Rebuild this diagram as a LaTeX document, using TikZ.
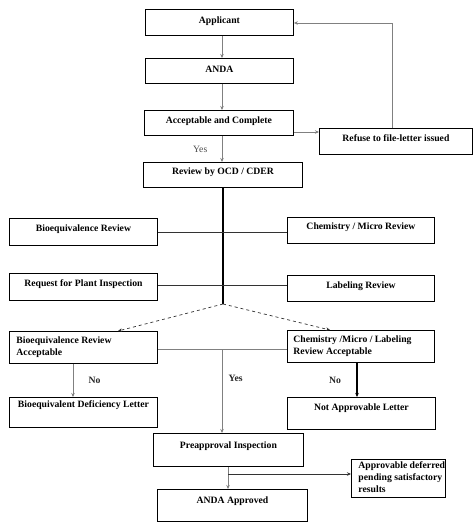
\documentclass[tikz,border=0pt]{standalone}
\usepackage{fontspec}
\setmainfont{Liberation Serif}
\usetikzlibrary{arrows.meta}
\newcommand{\tlines}[1]{\begin{tabular}[t]{@{}l@{}}#1\end{tabular}}
\begin{document}
\begin{tikzpicture}[x=1pt,y=-1pt,
  font=\bfseries\fontsize{9.7}{12}\selectfont,
  bx/.style={draw=black, line width=0.9pt, inner xsep=0pt, inner ysep=0pt, anchor=north west},
  lbx/.style={bx, inner xsep=7pt},
  gl/.style={draw=black!50, line width=0.7pt},
  dl/.style={draw=black!80, line width=0.7pt},
  tl/.style={draw=black, line width=1.2pt},
  arr/.style={-{Stealth[length=4pt,width=3.5pt]}},
  lbl/.style={font=\bfseries\fontsize{9.7}{12}\selectfont, text=black!85}
]
\useasboundingbox (0,0) rectangle (474,524);
% boxes
\node[bx, minimum width=148pt, text height=14pt, text depth=12pt] (app) at (145,9) {Applicant};
\node[bx, minimum width=148pt, text height=14.5pt, text depth=10.5pt] (anda) at (145,58) {ANDA};
\node[bx, minimum width=149pt, text height=13.5pt, text depth=11.5pt] (acc) at (144,110) {Acceptable and Complete};
\node[bx, minimum width=153pt, text height=13.5pt, text depth=12.5pt] (ref) at (319,128) {Refuse to file-letter issued};
\node[bx, minimum width=159pt, text height=12.5pt, text depth=12.5pt] (rev) at (143,162) {Review by OCD / CDER};
\node[bx, minimum width=148pt, text height=13.5pt, text depth=13.5pt] (bio) at (9,218) {Bioequivalence Review};
\node[bx, minimum width=147pt, text height=12.5pt, text depth=13.5pt] (chem) at (287,217) {Chemistry / Micro Review};
\node[bx, minimum width=148pt, text height=13.5pt, text depth=13.5pt] (req) at (9,273) {Request for Plant Inspection};
\node[bx, minimum width=147pt, text height=13.5pt, text depth=12.5pt] (lab) at (287,275) {Labeling Review};
\node[lbx, text height=12.5pt, text depth=19.5pt] (bioacc) at (9,331) {\makebox[134pt][l]{\tlines{Bioequivalence Review\\Acceptable}}};
\node[lbx, inner xsep=6pt, text height=12.5pt, text depth=19.5pt] (chemacc) at (287,330) {\makebox[135pt][l]{\tlines{Chemistry /Micro / Labeling\\Review Acceptable}}};
\node[bx, minimum width=148pt, text height=10.5pt, text depth=19.5pt] (biodef) at (9,397) {Bioequivalent Deficiency Letter};
\node[bx, minimum width=148pt, text height=13.5pt, text depth=18.5pt] (notapp) at (287,397) {Not Approvable Letter};
\node[bx, minimum width=150pt, text height=15.5pt, text depth=17.5pt] (pre) at (153,433) {Preapproval Inspection};
\node[bx, minimum width=150pt, text height=14.5pt, text depth=17.5pt] (appr) at (157,489) {ANDA Approved};
\node[lbx, text height=9.5pt, text depth=28.5pt] (defer) at (351,459) {\makebox[80pt][l]{\tlines{Approvable deferred\\pending satisfactory\\results}}};
% helper coordinates
\coordinate (sp) at (222,0);
\coordinate (r1) at (0,132);
\coordinate (rx) at (392,23);
\coordinate (tr) at (223,304);
\coordinate (h1) at (0,232);
\coordinate (h2) at (0,285);
\coordinate (bt) at (118,0);
\coordinate (ct) at (330,0);
\coordinate (h3) at (222,349);
\coordinate (bx1) at (73,0);
\coordinate (cx1) at (357,0);
\coordinate (px) at (228,0);
\coordinate (h4) at (228,474);
% connectors
\draw[gl, arr] (app.south -| sp) -- (anda.north -| sp);
\draw[gl, arr] (anda.south -| sp) -- (acc.north -| sp);
\draw[gl, arr] (acc.south -| sp) -- node[left=11pt, font=\fontsize{9.7}{12}\selectfont, text=black!70] (yes1) {Yes} (rev.north -| sp);
\draw[gl, arr] (acc.east |- r1) -- (ref.west |- r1);
\draw[gl, arr] (ref.north -| rx) -- (rx) -- (app.east |- rx);
\draw[tl] (rev.south -| tr) -- (tr);
\draw[dl] (bio.east |- h1) -- (chem.west |- h1);
\draw[dl] (req.east |- h2) -- (lab.west |- h2);
\draw[dl, dashed, arr] (tr) -- (bioacc.north -| bt);
\draw[dl, dashed, arr] (tr) -- (chemacc.north -| ct);
\draw[gl] (bioacc.east |- h3) -- (chemacc.west |- h3);
\draw[gl, arr] (h3) -- node[right=3pt, lbl, pos=0.35] (yes2) {Yes} (pre.north -| h3);
\draw[gl, arr] (bioacc.south -| bx1) -- node[right=12pt, lbl] (no1) {No} (biodef.north -| bx1);
\draw[tl, arr] (chemacc.south -| cx1) -- node[left=12pt, lbl] (no2) {No} (notapp.north -| cx1);
\draw[gl, arr] (pre.south -| px) -- (appr.north -| px);
\draw[dl, arr] (h4) -- (defer.west |- h4);
\end{tikzpicture}
\end{document}
